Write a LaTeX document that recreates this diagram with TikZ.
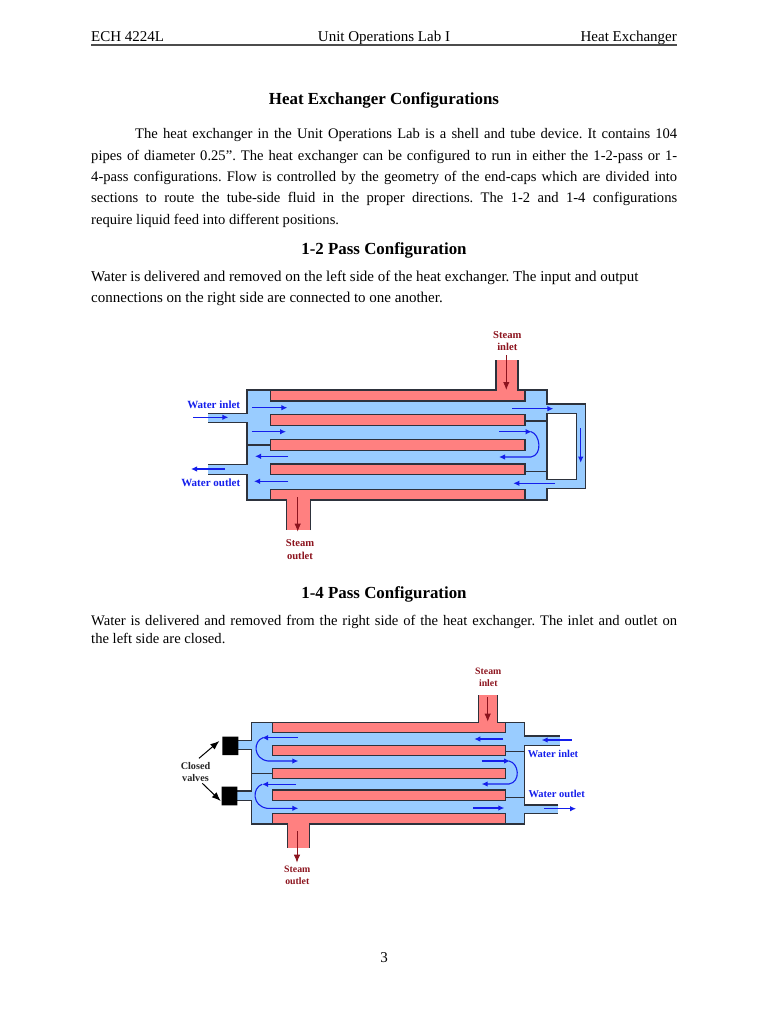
\documentclass[tikz,border=0pt]{standalone}
\usepackage{fontspec}
\setmainfont{Liberation Serif}
\definecolor{hxblue}{RGB}{153,204,255}
\definecolor{hxred}{RGB}{255,128,128}
\definecolor{hxline}{RGB}{45,50,60}
\definecolor{flowblue}{RGB}{20,30,235}
\definecolor{steamred}{RGB}{140,20,30}
\usetikzlibrary{arrows.meta}
\newcommand{\bodyfont}{\fontsize{14.6}{21.3}\selectfont\frenchspacing}
\newcommand{\headfont}{\fontsize{16.9}{20}\selectfont\bfseries}
\begin{document}
\begin{tikzpicture}[x=1pt,y=-1pt,
  outline/.style={draw=hxline,line width=1.1pt},
  tube/.style={outline,fill=hxred},
  flow/.style={flowblue,line width=1.1pt,-{Latex[length=6pt,width=5.5pt]}},
  steam/.style={steamred,line width=1pt,-{Latex[length=8pt,width=6.5pt]}},
  pointer/.style={black,line width=1pt,-{Latex[length=9pt,width=7pt]}},
  steamlabel/.style={font=\fontsize{10.6}{12.6}\selectfont\bfseries,steamred,align=center,inner sep=0pt},
  steamsmall/.style={steamlabel,font=\fontsize{9.8}{11.7}\selectfont\bfseries},
  waterlabel/.style={font=\fontsize{11}{12}\selectfont\bfseries,flowblue,inner sep=0pt},
  watersmall/.style={waterlabel,font=\fontsize{10.5}{12}\selectfont\bfseries},
  textline/.style={font=\fontsize{15}{18}\selectfont,anchor=base,inner sep=0pt},
  head/.style={font=\headfont,anchor=base,inner sep=0pt},
  para/.style={font=\bodyfont,text width=586pt,align=justify,anchor=north west,inner sep=0pt}]
  \useasboundingbox (0,0) rectangle (768,1024);
  % page text
  \node[textline,anchor=base west] (hdleft) at (91,42) {ECH 4224L};
  \node[textline] (hdmid) at (384,42) {Unit Operations Lab I};
  \node[textline,anchor=base east] (hdright) at (677,42) {Heat Exchanger};
  \draw[line width=1.3pt,black!70] (91,45) -- (677,45);
  \node[head] (title) at (384,104.5) {Heat Exchanger Configurations};
  \node[para] (intro) at (91,128.5) {\hspace*{44pt}The heat exchanger in the Unit Operations Lab is a shell and tube device. It contains 104\linebreak
    pipes of diameter 0.25''. The heat exchanger can be configured to run in either the 1-2-pass or 1-\linebreak
    4-pass configurations. Flow is controlled by the geometry of the end-caps which are divided into\linebreak
    sections to route the tube-side fluid in the proper directions. The 1-2 and 1-4 configurations\linebreak
    require liquid feed into different positions.};
  \node[head] (headtwo) at (384,254.5) {1-2 Pass Configuration};
  \node[para,font=\fontsize{15}{21.5}\selectfont\frenchspacing] (texttwo) at (91,270.5) {Water is delivered and removed on the left side of the heat exchanger. The input and output\\
    connections on the right side are connected to one another.};
  \node[head] (headfour) at (384,598.5) {1-4 Pass Configuration};
  \node[para,font=\fontsize{14.6}{18.5}\selectfont\frenchspacing] (textfour) at (91,615) {Water is delivered and removed from the right side of the heat exchanger. The inlet and outlet on\linebreak
    the left side are closed.};
  \node[textline] (pageno) at (384,962) {3};

  % 1-2 pass
  \fill[hxblue] (247,390) rectangle (547,500);
  \fill[hxblue] (208,413.3) rectangle (247,422.7);
  \fill[hxblue] (208,464.7) rectangle (247,474.3);
  \fill[hxblue] (547,404) rectangle (585.3,488.7);
  \fill[white] (547,413.7) rectangle (576.7,479.3);
  \foreach \ya/\yb in {390/401,414.7/425.3,439.3/450.7,464/474.7,489.3/500}
    \draw[tube] (270.3,\ya) rectangle (525,\yb);
  \fill[hxred] (496,360) rectangle (518,391);
  \fill[hxred] (286.7,499) rectangle (310.3,530);
  \draw[outline] (496,360) -- (496,390) -- (247,390) -- (247,413.3) -- (208,413.3);
  \draw[outline] (208,422.7) -- (247,422.7) -- (247,464.7) -- (208,464.7);
  \draw[outline] (208,474.3) -- (247,474.3) -- (247,500) -- (286.7,500) -- (286.7,530);
  \draw[outline] (310.3,530) -- (310.3,500) -- (547,500) -- (547,488.7) -- (585.3,488.7) -- (585.3,404) -- (547,404) -- (547,390) -- (518,390) -- (518,360);
  \draw[outline] (547,413.7) -- (576.7,413.7) -- (576.7,479.3) -- (547,479.3) -- cycle;
  \draw[outline] (247,445) -- (270.3,445);
  \draw[outline] (525,421) -- (547,421);
  \draw[outline] (525,471.3) -- (547,471.3);
  \draw[flow] (193.3,417.3) -- (228.3,417.3);
  \draw[flow] (252.3,407.7) -- (287.3,407.7);
  \draw[flow] (251.7,431.7) -- (286,431.7);
  \draw[flow] (288.3,456.3) -- (255,456.3);
  \draw[flow] (288.3,481.3) -- (254,481.3);
  \draw[flow] (225,469) -- (191,469);
  \draw[flow] (512.3,408.7) -- (553.3,408.7);
  \draw[flow] (499,431.7) -- (531.7,431.7);
  \draw[flow] (531,431.7) .. controls (540,434) and (543,455) .. (531,457) -- (499,457);
  \draw[flow] (580.7,428.3) -- (580.7,462.7);
  \draw[flow] (555,483.3) -- (513.3,483.3);
  \draw[steam] (506.3,355) -- (506.3,390);
  \draw[steam] (297.7,497.3) -- (297.7,531.7);
  \node[steamlabel] (steamin) at (507.3,341) {Steam\\inlet};
  \node[steamlabel] (steamout) at (300,549.5) {Steam\\outlet};
  \node[waterlabel] (waterin) at (213.7,405) {Water inlet};
  \node[waterlabel] (waterout) at (210.8,482.3) {Water outlet};

  % 1-4 pass
  \fill[hxblue] (251.3,722.3) rectangle (524.7,824);
  \fill[hxblue] (238,740.3) rectangle (251.3,749.7);
  \fill[hxblue] (237,791) rectangle (251.3,800.3);
  \fill[hxblue] (524.7,736) rectangle (559.7,745.3);
  \fill[hxblue] (524.7,805) rectangle (558.3,813.7);
  \foreach \ya/\yb in {722.3/732.7,745.3/755.7,768.3/778.7,790/800.3,813.7/824}
    \draw[tube] (272.7,\ya) rectangle (505.3,\yb);
  \fill[hxred] (478.3,695) rectangle (497.7,723.3);
  \fill[hxred] (287.3,823) rectangle (309.3,847.7);
  \draw[outline] (478.3,695) -- (478.3,722.3) -- (251.3,722.3) -- (251.3,740.3) -- (238,740.3);
  \draw[outline] (238,749.7) -- (251.3,749.7) -- (251.3,791) -- (237,791);
  \draw[outline] (237,800.3) -- (251.3,800.3) -- (251.3,824) -- (287.3,824) -- (287.3,847.7);
  \draw[outline] (309.3,847.7) -- (309.3,824) -- (524.7,824) -- (524.7,813.7) -- (558.3,813.7);
  \draw[outline] (558.3,805) -- (524.7,805) -- (524.7,745.3) -- (559.7,745.3);
  \draw[outline] (559.7,736) -- (524.7,736) -- (524.7,722.3) -- (497.7,722.3) -- (497.7,695);
  \draw[outline] (251.3,773.3) -- (272.7,773.3);
  \draw[outline] (505.3,751.3) -- (524.7,751.3);
  \draw[outline] (505.3,797.3) -- (524.7,797.3);
  \fill[black] (222.3,736.7) rectangle (238.3,755) (221.7,786.7) rectangle (237.3,805.3);
  \draw[flow] (297.7,737.7) -- (262,737.7);
  \draw[flow] (263,737.7) .. controls (253,741) and (253,759) .. (268,761) -- (298.3,761);
  \draw[flow] (296,784.3) -- (262,784.3);
  \draw[flow] (262,784.3) .. controls (252,788) and (252,806) .. (267,808.3) -- (298.3,808.3);
  \draw[flow] (481.7,761) -- (510,761);
  \draw[flow] (509,761) .. controls (519,763) and (521,782) .. (509,784) -- (481.7,784);
  \draw[flow] (503.3,739) -- (474.3,739);
  \draw[flow] (571.7,740) -- (541.7,740);
  \draw[flow] (473.3,808) -- (504.3,808);
  \draw[flow] (544.3,808.7) -- (576,808.7);
  \draw[steam] (487.7,697) -- (487.7,721.7);
  \draw[steam] (297,831) -- (297,862.7);
  \draw[pointer] (199,758.3) -- (219.3,741);
  \draw[pointer] (202.3,783.3) -- (220.7,801);
  \node[steamsmall] (steamintwo) at (488.3,677) {Steam\\inlet};
  \node[steamsmall] (steamouttwo) at (297.3,875) {Steam\\outlet};
  \node[watersmall] (waterintwo) at (553,754.3) {Water inlet};
  \node[watersmall] (waterouttwo) at (556.7,794.3) {Water outlet};
  \node[steamlabel,black!85,font=\fontsize{10.2}{12}\selectfont\bfseries] (closed) at (195.5,772) {Closed\\valves};
\end{tikzpicture}
\end{document}
